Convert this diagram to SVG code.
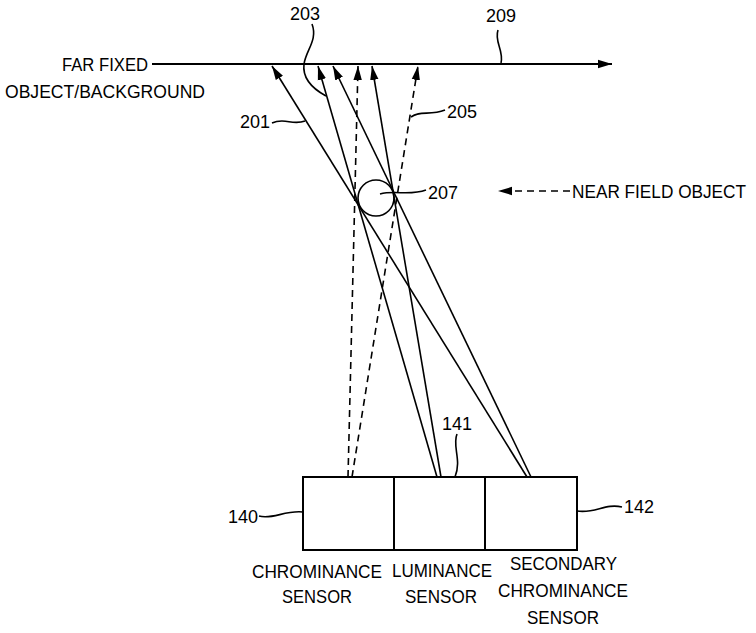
<svg xmlns="http://www.w3.org/2000/svg" width="756" height="633" viewBox="0 0 756 633">
<style>
text{font-family:"Liberation Sans",Arial,sans-serif;font-size:18px;fill:#000}
.l{stroke:#000;stroke-width:1.6;fill:none}
.d{stroke:#000;stroke-width:1.6;fill:none;stroke-dasharray:7,5}
</style>
<defs>
<marker id="b" viewBox="0 0 10 10" refX="10" refY="5" markerWidth="14" markerHeight="14" orient="auto" markerUnits="userSpaceOnUse"><path d="M0,2 L10,5 L0,8 z"/></marker></defs>
<rect width="756" height="633" fill="#fff"/>
<g id="background">
<line class="l" x1="152" y1="64" x2="612" y2="64" marker-end="url(#b)" style="stroke-width:2"/>
<text x="62" y="71" textLength="86" lengthAdjust="spacingAndGlyphs">FAR FIXED</text>
<text x="5" y="98" textLength="200" lengthAdjust="spacingAndGlyphs">OBJECT/BACKGROUND</text>
</g>
<g id="near-object">
<circle class="l" cx="376" cy="198" r="18"/>
<line class="d" x1="570" y1="191" x2="498" y2="191" marker-end="url(#b)"/>
<text x="572" y="198" textLength="174" lengthAdjust="spacingAndGlyphs">NEAR FIELD OBJECT</text>
</g>
<g id="sensors">
<rect class="l" x="303" y="477" width="274" height="73" style="stroke-width:2"/>
<line class="l" x1="394" y1="477" x2="394" y2="550" style="stroke-width:2"/>
<line class="l" x1="485" y1="477" x2="485" y2="550" style="stroke-width:2"/>
<text x="252" y="578" textLength="130" lengthAdjust="spacingAndGlyphs">CHROMINANCE</text>
<text x="282" y="603" textLength="70" lengthAdjust="spacingAndGlyphs">SENSOR</text>
<text x="392" y="577" textLength="100" lengthAdjust="spacingAndGlyphs">LUMINANCE</text>
<text x="405" y="603" textLength="72" lengthAdjust="spacingAndGlyphs">SENSOR</text>
<text x="510" y="570" textLength="107" lengthAdjust="spacingAndGlyphs">SECONDARY</text>
<text x="498" y="597" textLength="130" lengthAdjust="spacingAndGlyphs">CHROMINANCE</text>
<text x="527" y="624" textLength="72" lengthAdjust="spacingAndGlyphs">SENSOR</text>
</g>
<g id="connectors">
<line class="l" x1="527" y1="477" x2="272" y2="66" marker-end="url(#b)"/>
<line class="l" x1="531" y1="477" x2="333" y2="66" marker-end="url(#b)"/>
<line class="l" x1="437" y1="477" x2="318" y2="66" marker-end="url(#b)"/>
<line class="l" x1="441" y1="477" x2="372" y2="66" marker-end="url(#b)"/>
<line class="d" x1="348" y1="477" x2="358" y2="66" marker-end="url(#b)"/>
<line class="d" x1="352" y1="477" x2="418" y2="66" marker-end="url(#b)"/>
</g>
<g id="labels">
<text x="290" y="20">203</text>
<path class="l" d="M312,24 C318,40 306,50 304,64 C302,80 315,90 326,96"/>
<text x="486" y="22">209</text>
<path class="l" d="M498,30 C494,42 504,50 501,63"/>
<text x="240" y="128">201</text>
<path class="l" d="M272,123 C285,117 292,126 305,121"/>
<text x="447" y="118">205</text>
<path class="l" d="M411,117 C420,110 430,116 445,110"/>
<text x="428" y="199">207</text>
<path class="l" d="M380,194 C395,190 410,196 426,190"/>
<text x="442" y="430">141</text>
<path class="l" d="M457,434 C452,446 462,460 455,477"/>
<text x="228" y="523">140</text>
<path class="l" d="M259,516 C272,520 285,510 303,512"/>
<text x="624" y="513">142</text>
<path class="l" d="M577,511 C595,514 605,503 622,507"/>
</g>
</svg>
